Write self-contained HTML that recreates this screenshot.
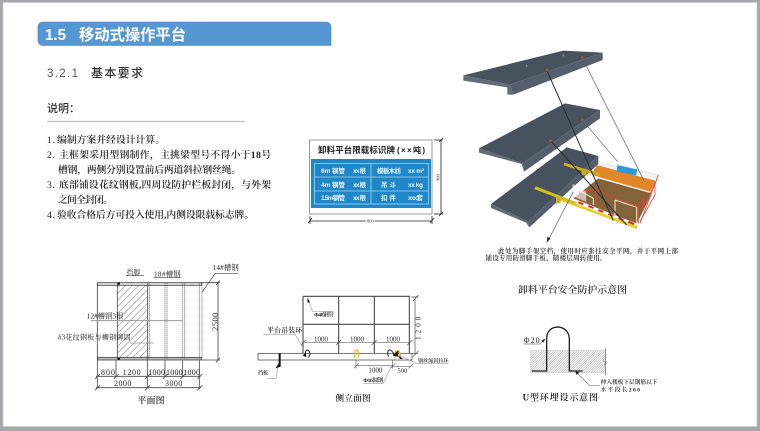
<!DOCTYPE html>
<html><head><meta charset="utf-8">
<style>
html,body{margin:0;padding:0;background:#a4a7ab;width:760px;height:431px;overflow:hidden}
svg{display:block;filter:blur(.35px)}
text{font-family:"Liberation Serif","Noto Serif CJK SC",serif;fill:#222}
.s{font-family:"Liberation Sans","Noto Sans CJK SC",sans-serif}
.d{fill:#333}
.b{font-weight:600}
</style></head><body>
<svg width="760" height="431" viewBox="0 0 760 431" xmlns="http://www.w3.org/2000/svg">
<rect x="3" y="2.5" width="754" height="424" fill="#fff" stroke="#c8cbce" stroke-width=".6"/>
<path d="M43 22H326a5 5 0 0 1 5 5V45.5H43a5 5 0 0 1-5-5V27a5 5 0 0 1 5-5Z" fill="#5597d3" stroke="#4a80b4" stroke-width=".6"/>
<text class="s" x="45" y="40" font-size="16" font-weight="bold" style="fill:#fff" textLength="21" lengthAdjust="spacingAndGlyphs">1.5</text>
<text class="s" x="79" y="40" font-size="15.5" font-weight="bold" style="fill:#fff" textLength="107" lengthAdjust="spacingAndGlyphs">移动式操作平台</text>
<text class="s" x="47" y="77" font-size="11.5" style="fill:#555" textLength="31">3.2.1</text>
<text class="s" x="91" y="77" font-size="12" font-weight="500" style="fill:#333" textLength="52">基本要求</text>
<text class="s" x="47" y="112" font-size="11" font-weight="500" style="fill:#333" textLength="33">说明：</text>
<line x1="47" y1="121.5" x2="245" y2="121.5" stroke="#c0c0c2" stroke-width="1.3"/>
<g font-size="9.8">
<text x="47" y="143" textLength="8">1.</text><text class="b" x="57" y="143" textLength="108">编制方案并经设计计算。</text>
<text x="47" y="158" textLength="8">2.</text><text class="b" x="59" y="158" textLength="212">主框架采用型钢制作，主挑梁型号不得小于18号</text>
<text class="b" x="58" y="173" textLength="183">槽钢，两侧分别设置前后两道斜拉钢丝绳。</text>
<text x="47" y="188" textLength="8">3.</text><text class="b" x="59" y="188" textLength="212">底部铺设花纹钢板,四周设防护栏板封闭，与外架</text>
<text class="b" x="58" y="203" textLength="55">之间全封闭。</text>
<text x="47" y="218" textLength="8">4.</text><text class="b" x="57" y="218" textLength="197">验收合格后方可投入使用,内侧设限载标志牌。</text>
</g>

<!-- sign -->
<rect x="309.5" y="140" width="122.5" height="74" fill="#fff" stroke="#999" stroke-width="1"/>
<rect x="311" y="159" width="120" height="49" fill="#1f87c7"/>
<text class="s" x="318" y="153" font-size="8.5" font-weight="bold" textLength="77">卸料平台限载标识牌</text>
<text class="s" x="397" y="153" font-size="8" font-weight="bold" textLength="28">(××吨)</text>
<g fill="none" stroke="#a9d6f0" stroke-width=".8">
<rect x="314.5" y="163.5" width="114" height="40.5"/>
<line x1="314.5" y1="177" x2="428.5" y2="177"/><line x1="314.5" y1="191" x2="428.5" y2="191"/><line x1="371" y1="163.5" x2="371" y2="204"/>
</g>
<g font-size="6.5" font-weight="bold">
<text class="s" x="321" y="173" style="fill:#e8f4fb" textLength="24">6m 钢管</text><text class="s" x="353" y="173" style="fill:#e8f4fb" textLength="13">xx 根</text><text class="s" x="377" y="173" style="fill:#e8f4fb" textLength="24">模板木枋</text><text class="s" x="408" y="173" style="fill:#e8f4fb" textLength="16">xx m²</text>
<text class="s" x="321" y="187" style="fill:#e8f4fb" textLength="24">4m 钢管</text><text class="s" x="353" y="187" style="fill:#e8f4fb" textLength="13">xx 根</text><text class="s" x="381" y="187" style="fill:#e8f4fb" textLength="15">吊 斗</text><text class="s" x="408" y="187" style="fill:#e8f4fb" textLength="15">xx kg</text>
<text class="s" x="321" y="200" style="fill:#e8f4fb" textLength="24">1.5m钢管</text><text class="s" x="353" y="200" style="fill:#e8f4fb" textLength="13">xx 根</text><text class="s" x="381" y="200" style="fill:#e8f4fb" textLength="15">扣 件</text><text class="s" x="408" y="200" style="fill:#e8f4fb" textLength="15">xxx套</text>
</g>
<g stroke="#222" fill="none" stroke-width=".8">
<line x1="310" y1="221" x2="432" y2="221"/><line x1="308" y1="223" x2="312" y2="218"/><line x1="430" y1="223" x2="434" y2="218"/>
<line x1="310" y1="216" x2="310" y2="224"/><line x1="432" y1="216" x2="432" y2="224"/>
<line x1="441" y1="140" x2="441" y2="214"/><line x1="439" y1="142" x2="443" y2="138"/><line x1="439" y1="216" x2="443" y2="212"/>
<line x1="434" y1="140" x2="443" y2="140"/><line x1="434" y1="214" x2="443" y2="214"/>
</g>
<text x="367" y="222.5" font-size="4.5" class="d" style="paint-order:stroke;stroke:#fff;stroke-width:2px">800</text>
<text transform="translate(439.5,181) rotate(-90)" font-size="4.5" class="d" style="paint-order:stroke;stroke:#fff;stroke-width:2px">900</text>

<!-- 3D slabs, coordinates in 3x crop -->
<g transform="translate(450,50) scale(.33333)">
<polygon points="40,76 340,2 458,8 180,104" fill="#48525f"/>
<polygon points="40,76 180,104 190,134 172,134 172,112 40,92" fill="#636b78"/>
<polygon points="180,104 458,8 458,30 190,134" fill="#545e6c"/>
<polygon points="87,295 345,160 450,180 218,340" fill="#48525f"/>
<polygon points="87,295 218,340 222,365 215,342 87,308" fill="#636b78"/>
<polygon points="218,340 450,180 450,205 222,365" fill="#545e6c"/>
<polygon points="123,462 350,292 445,318 235,515" fill="#48525f"/>
<polygon points="123,462 235,515 238,532 228,518 123,474" fill="#636b78"/>
<polygon points="235,515 445,318 445,342 238,532" fill="#545e6c"/>
<circle cx="230" cy="48" r="3" fill="#8a8f96"/><circle cx="340" cy="16" r="3" fill="#8a8f96"/>
</g>

<!-- platform -->
<g transform="translate(560,160) scale(.33333)">
<polygon points="125,10 297,45 285,75 120,40" fill="#f4f4f2" stroke="#bbb" stroke-width="1"/>
<polygon points="40,115 230,192 275,100 115,55" fill="#85633a"/>
<polygon points="110,15 285,62 270,95 95,45" fill="#e2862a"/>
<polygon points="172,15 232,28 228,46 170,34" fill="#2f9bd6"/>
<polygon points="0,108 232,192 230,207 0,122" fill="#e6d02c"/>
<polygon points="50,124 230,190 230,197 50,132" fill="#fff"/>
<path d="M55,127L70,133M85,138L100,144M115,150L130,156M145,162L160,168M175,174L190,180M205,185L222,192" stroke="#dc2a20" stroke-width="6"/>
<g fill="none" stroke="#e7452f" stroke-width="2.5">
<path d="M110,88L165,115V165M165,115L235,140V190M235,140L250,115V150L285,65V105L240,185"/>
<path d="M58,123V95L108,88V140"/>
</g>
<g fill="none" stroke="#f3e9d8" stroke-width="3">
<path d="M165,120L230,142V190M165,120V165"/>
<path d="M38,80L100,115V135"/>
</g>
<polygon points="38,72 78,95 78,125 38,108" fill="#fff" fill-opacity=".6" stroke="#bbb" stroke-width="1"/>
<path d="M295,45L240,190" stroke="#e7452f" stroke-width="2.5" fill="none"/>
</g>
<g transform="translate(450,50) scale(.33333)">
<path d="M342,342L450,375" stroke="#c9ad22" stroke-width="9"/>
<path d="M255,413L376,460" stroke="#d5bb24" stroke-width="9"/>
<path d="M395,362h14v14h-14zM318,442h14v18h-14z" fill="#c9ad22"/>
<g fill="none">
<line x1="290" y1="60" x2="490" y2="512" stroke="#2a2d30" stroke-width="3"/>
<line x1="395" y1="20" x2="582" y2="392" stroke="#5c5f62" stroke-width="2"/>
<line x1="395" y1="208" x2="503" y2="335" stroke="#5c5f62" stroke-width="2"/>
<line x1="300" y1="270" x2="530" y2="525" stroke="#2a2d30" stroke-width="3"/>
<line x1="370" y1="425" x2="294" y2="572" stroke="#666" stroke-width="2"/>
</g>
<polygon points="290,578 292,560 302,566" fill="#333"/>
<circle cx="292" cy="60" r="4" fill="#a2592b"/><circle cx="397" cy="22" r="4" fill="#a2592b"/><circle cx="397" cy="210" r="4" fill="#a2592b"/><circle cx="302" cy="272" r="4" fill="#a2592b"/>
</g>
<text class="b" x="498" y="253" font-size="6.5" textLength="180">此处为脚手架空档，使用时应张挂安全平网，并于平网上部</text>
<text class="b" x="485.5" y="260" font-size="6.5" textLength="121">铺设专用防滑脚手板，随楼层周转使用。</text>
<text class="b" x="518" y="293" font-size="9.9" textLength="109" style="fill:#333">卸料平台安全防护示意图</text>

<!-- plan -->
<g transform="translate(70,255) scale(.33333)">
<defs><pattern id="h1" width="14" height="14" patternUnits="userSpaceOnUse" patternTransform="rotate(45)"><line x1="0" y1="0" x2="0" y2="14" stroke="#555" stroke-width="2.4"/></pattern>
<pattern id="h2" width="5" height="5" patternUnits="userSpaceOnUse" patternTransform="rotate(45)"><line x1="0" y1="0" x2="0" y2="5" stroke="#666" stroke-width="1.8"/></pattern></defs>
<rect x="142" y="85" width="90" height="228" fill="url(#h1)"/>
<g fill="none" stroke="#444" stroke-width="2.4">
<rect x="82" y="83" width="312" height="8" fill="#ddd"/>
<rect x="82" y="307" width="312" height="8" fill="#bbb"/>
<line x1="82" y1="83" x2="82" y2="315"/>
<line x1="142" y1="85" x2="142" y2="313"/>
<line x1="233" y1="85" x2="233" y2="313"/><line x1="238" y1="85" x2="238" y2="313" stroke-dasharray="3 3"/>
<line x1="285" y1="85" x2="285" y2="313" stroke-dasharray="3 3"/><line x1="291" y1="85" x2="291" y2="313" stroke-dasharray="3 3"/>
<line x1="338" y1="85" x2="338" y2="313" stroke-dasharray="3 3"/><line x1="344" y1="85" x2="344" y2="313" stroke-dasharray="3 3"/>
<line x1="388" y1="85" x2="388" y2="313" stroke-dasharray="3 3"/><line x1="396" y1="85" x2="396" y2="313" stroke-dasharray="3 3"/>
<line x1="62" y1="197" x2="338" y2="197" stroke="#999" stroke-width="3"/>
<line x1="178" y1="264" x2="252" y2="264" stroke="#999"/>
<line x1="232" y1="315" x2="232" y2="400"/><line x1="285" y1="315" x2="285" y2="365"/><line x1="338" y1="315" x2="338" y2="365"/><line x1="388" y1="315" x2="388" y2="400"/><line x1="82" y1="315" x2="82" y2="400"/><line x1="138" y1="315" x2="138" y2="365"/>
<line x1="78" y1="364" x2="392" y2="364"/><line x1="78" y1="398" x2="392" y2="398"/>
<line x1="444" y1="83" x2="444" y2="315"/><line x1="394" y1="83" x2="450" y2="83"/><line x1="394" y1="315" x2="450" y2="315"/>
<path d="M396,112L435,56H505M168,62H222M250,68H332" stroke-width="2"/>
<path d="M75,372L90,357M131,372L146,357M225,372L240,357M278,372L293,357M331,372L346,357M382,372L397,357M75,406L90,391M225,406L240,391M382,406L397,391M438,90L450,76M438,322L450,308"/>
</g>
<rect x="143" y="82" width="7" height="7" fill="#111"/><rect x="143" y="309" width="7" height="5" fill="#111"/>
<g style="fill:#333">
<text x="170" y="58" font-size="20" textLength="40">挡脚</text>
<text x="252" y="65" font-size="22" textLength="80">18#槽钢</text>
<text x="428" y="45" font-size="22" textLength="78">14#槽钢</text>
<text x="50" y="191" font-size="22" textLength="110">12#槽钢3根</text>
<text x="-36" y="254" font-size="21" textLength="218">δ3花纹钢板与槽钢铆固</text>
<text transform="translate(444,228) rotate(-90)" font-size="26" textLength="55">2500</text>
<text x="93" y="360" font-size="24" textLength="42">800</text><text x="158" y="360" font-size="24" textLength="54">1200</text><text x="235" y="360" font-size="24" textLength="50">1000</text><text x="288" y="360" font-size="24" textLength="50">1000</text><text x="340" y="360" font-size="24" textLength="50">1000</text>
<text x="132" y="393" font-size="24" textLength="52">2000</text><text x="285" y="393" font-size="24" textLength="52">3000</text>
<text class="b" x="202" y="445" font-size="27" textLength="82">平面图</text>
</g>
</g>

<!-- elevation -->
<g transform="translate(250,285) scale(.33333)">
<g fill="none" stroke="#444" stroke-width="3.2">
<path d="M159,34H478V205M159,34V205M266,34V205M373,34V205M159,118H478"/>
<rect x="24" y="205" width="462" height="20" stroke-width="2.2"/>
<path d="M495,40V205M484,36H505M487,205H505" stroke-width="2"/>
<path d="M489,48L505,30M489,215L505,198" stroke-width="2"/>
<path d="M160,172H478" stroke-width="1.5"/>
<path d="M153,180L168,165M258,180L273,165M365,180L380,165M472,180L487,165" stroke-width="2"/>
<path d="M318,242H428M318,225V250M428,225V250M428,245H482M312,250L326,235M422,250L436,235M476,250L490,235" stroke-width="1.6"/>
<path d="M173,40L188,80H250M40,148H135L160,190M52,280H78L85,240M425,240L400,295H340M455,215L500,235H595" stroke="#888" stroke-width="1.6"/>
<path d="M168,215C160,190 180,190 180,208L176,218" stroke="#222" stroke-width="3"/>
<path d="M416,215C405,190 428,188 432,212M436,220C428,190 456,190 450,220" stroke="#222" stroke-width="3"/>
<path d="M314,218C308,188 332,188 325,218" stroke="#eac117" stroke-width="4"/>
<path d="M436,220C432,190 456,190 448,220" stroke="#eac117" stroke-width="4"/>
</g>
<rect x="86" y="205" width="6" height="40" fill="#111"/><polygon points="76,250 88,232 92,245" fill="#111"/>
<polygon points="173,38 180,52 172,52" fill="#111"/><polygon points="158,212 166,204 168,216" fill="#111"/><polygon points="428,212 445,196 445,215" fill="#111"/><polygon points="445,212 460,222 450,222" fill="#111"/>
<g style="fill:#333">
<text class="b" x="192" y="94" font-size="17" textLength="60">Φ48钢管</text>
<text class="b" x="52" y="142" font-size="20" textLength="104">平台吊装环</text>
<text x="192" y="169" font-size="21" textLength="42">1000</text><text x="300" y="169" font-size="21" textLength="42">1000</text><text x="408" y="169" font-size="21" textLength="42">1000</text>
<text x="355" y="263" font-size="21" textLength="42">1000</text><text x="442" y="263" font-size="20" textLength="30">500</text>
<text class="b" x="340" y="291" font-size="17" textLength="60">Φ16圆钢</text>
<text class="b" x="24" y="269" font-size="15" textLength="30">挡板</text>
<text class="b" x="504" y="232" font-size="15" textLength="92">钢丝绳斜拉环</text>
<text transform="translate(512,165) rotate(-90)" font-size="22" textLength="70">1200</text>
<text class="b" x="256" y="348" font-size="26" textLength="106">侧立面图</text>
</g>
</g>

<!-- U ring -->
<g transform="translate(490,320) scale(.33333)">
<rect x="120" y="92" width="225" height="65" fill="url(#h2)"/>
<path d="M120,92H345M120,157H345" stroke="#999" stroke-width="1" fill="none"/>
<path d="M346,85V165" stroke="#555" stroke-width="2"/><path d="M338,122L350,130L342,136" stroke="#555" fill="none" stroke-width="1.5"/>
<path d="M125,153H170V55C170,10 235,10 238,55V153H278" fill="none" stroke="#222" stroke-width="4"/>
<path d="M100,72H150L165,58M255,152L298,196H330" fill="none" stroke="#777" stroke-width="2"/>
<polygon points="166,56 160,68 154,62" fill="#222"/><polygon points="255,152 268,158 260,165" fill="#222"/>
<g style="fill:#333">
<text x="101" y="69" font-size="24" textLength="48">Φ20</text>
<text class="b" x="332" y="192" font-size="17" textLength="170">伸入楼板下层钢筋以下</text>
<text class="b" x="332" y="214" font-size="17" textLength="118">水平段长200</text>
<text class="b" x="98" y="241" font-size="27" textLength="226">U型环埋设示意图</text>
</g>
</g>
</svg>
</body></html>
